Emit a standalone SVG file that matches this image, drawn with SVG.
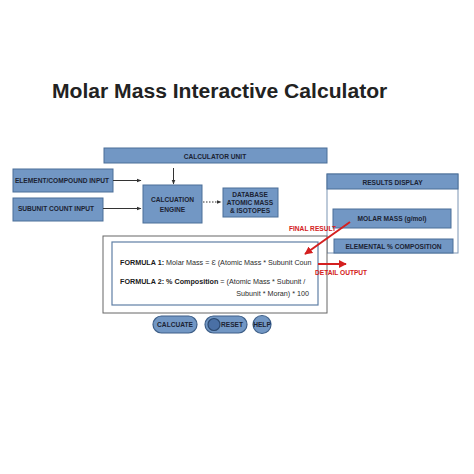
<svg xmlns="http://www.w3.org/2000/svg" width="474" height="474" viewBox="0 0 474 474">
<defs>
<style>
.box{fill:#7297c4;stroke:#4b6e98;stroke-width:1}
.lbl{font-family:"Liberation Sans",Arial,sans-serif;font-weight:bold;font-size:6.6px;fill:#1b2333;text-anchor:middle}
.red{font-family:"Liberation Sans",Arial,sans-serif;font-weight:bold;font-size:6.6px;fill:#d42020}
.f{font-family:"Liberation Sans",Arial,sans-serif;font-size:7.2px;fill:#2a2a2a}
.fb{font-weight:bold;fill:#1a1a1a}
.ar{stroke:#333;stroke-width:1;fill:none}
.btn{fill:#7297c4;stroke:#3e5f88;stroke-width:1.2}
</style>
<marker id="ah" viewBox="0 0 10 10" refX="9" refY="5" markerWidth="5" markerHeight="5" orient="auto"><path d="M0,1 L10,5 L0,9 z" fill="#333"/></marker>
<marker id="ahr" viewBox="0 0 10 10" refX="9" refY="5" markerWidth="4" markerHeight="4" orient="auto"><path d="M0,0 L10,5 L0,10 z" fill="#d42020"/></marker>
</defs>
<rect width="474" height="474" fill="#fff"/>
<text x="52" y="98" font-family="Liberation Sans,Arial,sans-serif" font-weight="bold" font-size="21.1" fill="#222">Molar Mass Interactive Calculator</text>

<g id="calculator-unit"><rect class="box" x="104" y="148" width="223" height="15"/><text class="lbl" x="215" y="158.5">CALCULATOR UNIT</text></g>
<g id="element-input"><rect class="box" x="13" y="169" width="100" height="23"/><text class="lbl" x="62" y="183">ELEMENT/COMPOUND INPUT</text></g>
<g id="subunit-input"><rect class="box" x="13" y="198" width="90" height="23"/><text class="lbl" x="56" y="211">SUBUNIT COUNT INPUT</text></g>
<g id="engine"><rect class="box" x="143" y="185" width="59" height="38"/><text class="lbl" x="172.5" y="202">CALCUATION</text><text class="lbl" x="172.5" y="212">ENGINE</text></g>
<g id="database"><rect class="box" x="223" y="188" width="55" height="29"/><text class="lbl" x="250" y="197">DATABASE</text><text class="lbl" x="250" y="205" font-size="5.6">ATOMIC MASS</text><text class="lbl" x="250" y="213" font-size="5.6">&amp; ISOTOPES</text></g>

<g id="results-display">
<rect x="327" y="174" width="131" height="79" fill="#fff" stroke="#7d95b3" stroke-width="1"/>
<rect class="box" x="327" y="174" width="131" height="15"/>
<text class="lbl" x="392.5" y="184.5">RESULTS DISPLAY</text>
</g>
<g id="molar-mass"><rect class="box" x="333" y="209" width="118" height="19"/><text class="lbl" x="392" y="220.5">MOLAR MASS (g/mol)</text></g>
<g id="elemental"><rect class="box" x="334" y="239" width="119" height="14"/><text class="lbl" x="393.5" y="248.5">ELEMENTAL % COMPOSITION</text></g>

<g id="formula-panel">
<rect x="103" y="236" width="224" height="77" fill="#fff" stroke="#666" stroke-width="1"/>
<rect x="112" y="242" width="206" height="63" fill="#fff" stroke="#5f7fa5" stroke-width="1.2"/>
<text class="f" x="120" y="265"><tspan class="fb">FORMULA 1:</tspan> Molar Mass = Ɛ (Atomic Mass * Subunit Coun</text>
<text class="f" x="120" y="284"><tspan class="fb">FORMULA 2: % Composition</tspan> = (Atomic Mass * Subunit /</text>
<text class="f" x="309" y="296" text-anchor="end">Subunit * Moran) * 100</text>
</g>

<g id="buttons">
<g id="btn-calculate"><rect class="btn" x="153" y="316" width="44" height="17" rx="8.5"/><text class="lbl" x="175" y="326.5" font-size="5.8">CALCUATE</text></g>
<g id="btn-reset"><rect class="btn" x="205" y="316" width="42" height="17" rx="8.5"/><circle cx="214" cy="324.5" r="6" fill="#4a70a5" stroke="#2d4a70" stroke-width="1.2"/><text class="lbl" x="232" y="326.5" font-size="5.8">RESET</text></g>
<g id="btn-help"><circle class="btn" cx="262" cy="324.5" r="9"/><text class="lbl" x="262" y="326.5" font-size="5.5">HELP</text></g>
</g>

<g id="connectors">
<line class="ar" x1="113" y1="180.5" x2="141" y2="180.5" marker-end="url(#ah)"/>
<line class="ar" x1="103" y1="208.5" x2="141" y2="208.5" marker-end="url(#ah)"/>
<line class="ar" x1="173.5" y1="168" x2="173.5" y2="184" marker-end="url(#ah)"/>
<line class="ar" x1="203" y1="202" x2="221" y2="202" stroke-dasharray="1.5,1.5" stroke="#777" marker-end="url(#ah)"/>
<line x1="350" y1="222" x2="305" y2="254" stroke="#d42020" stroke-width="2" marker-end="url(#ahr)"/>
<line x1="318" y1="264" x2="346" y2="264" stroke="#d42020" stroke-width="2" marker-end="url(#ahr)"/>
<text class="red" x="289" y="231">FINAL RESULT</text>
<text class="red" x="315" y="275">DETAIL OUTPUT</text>
</g>
</svg>
